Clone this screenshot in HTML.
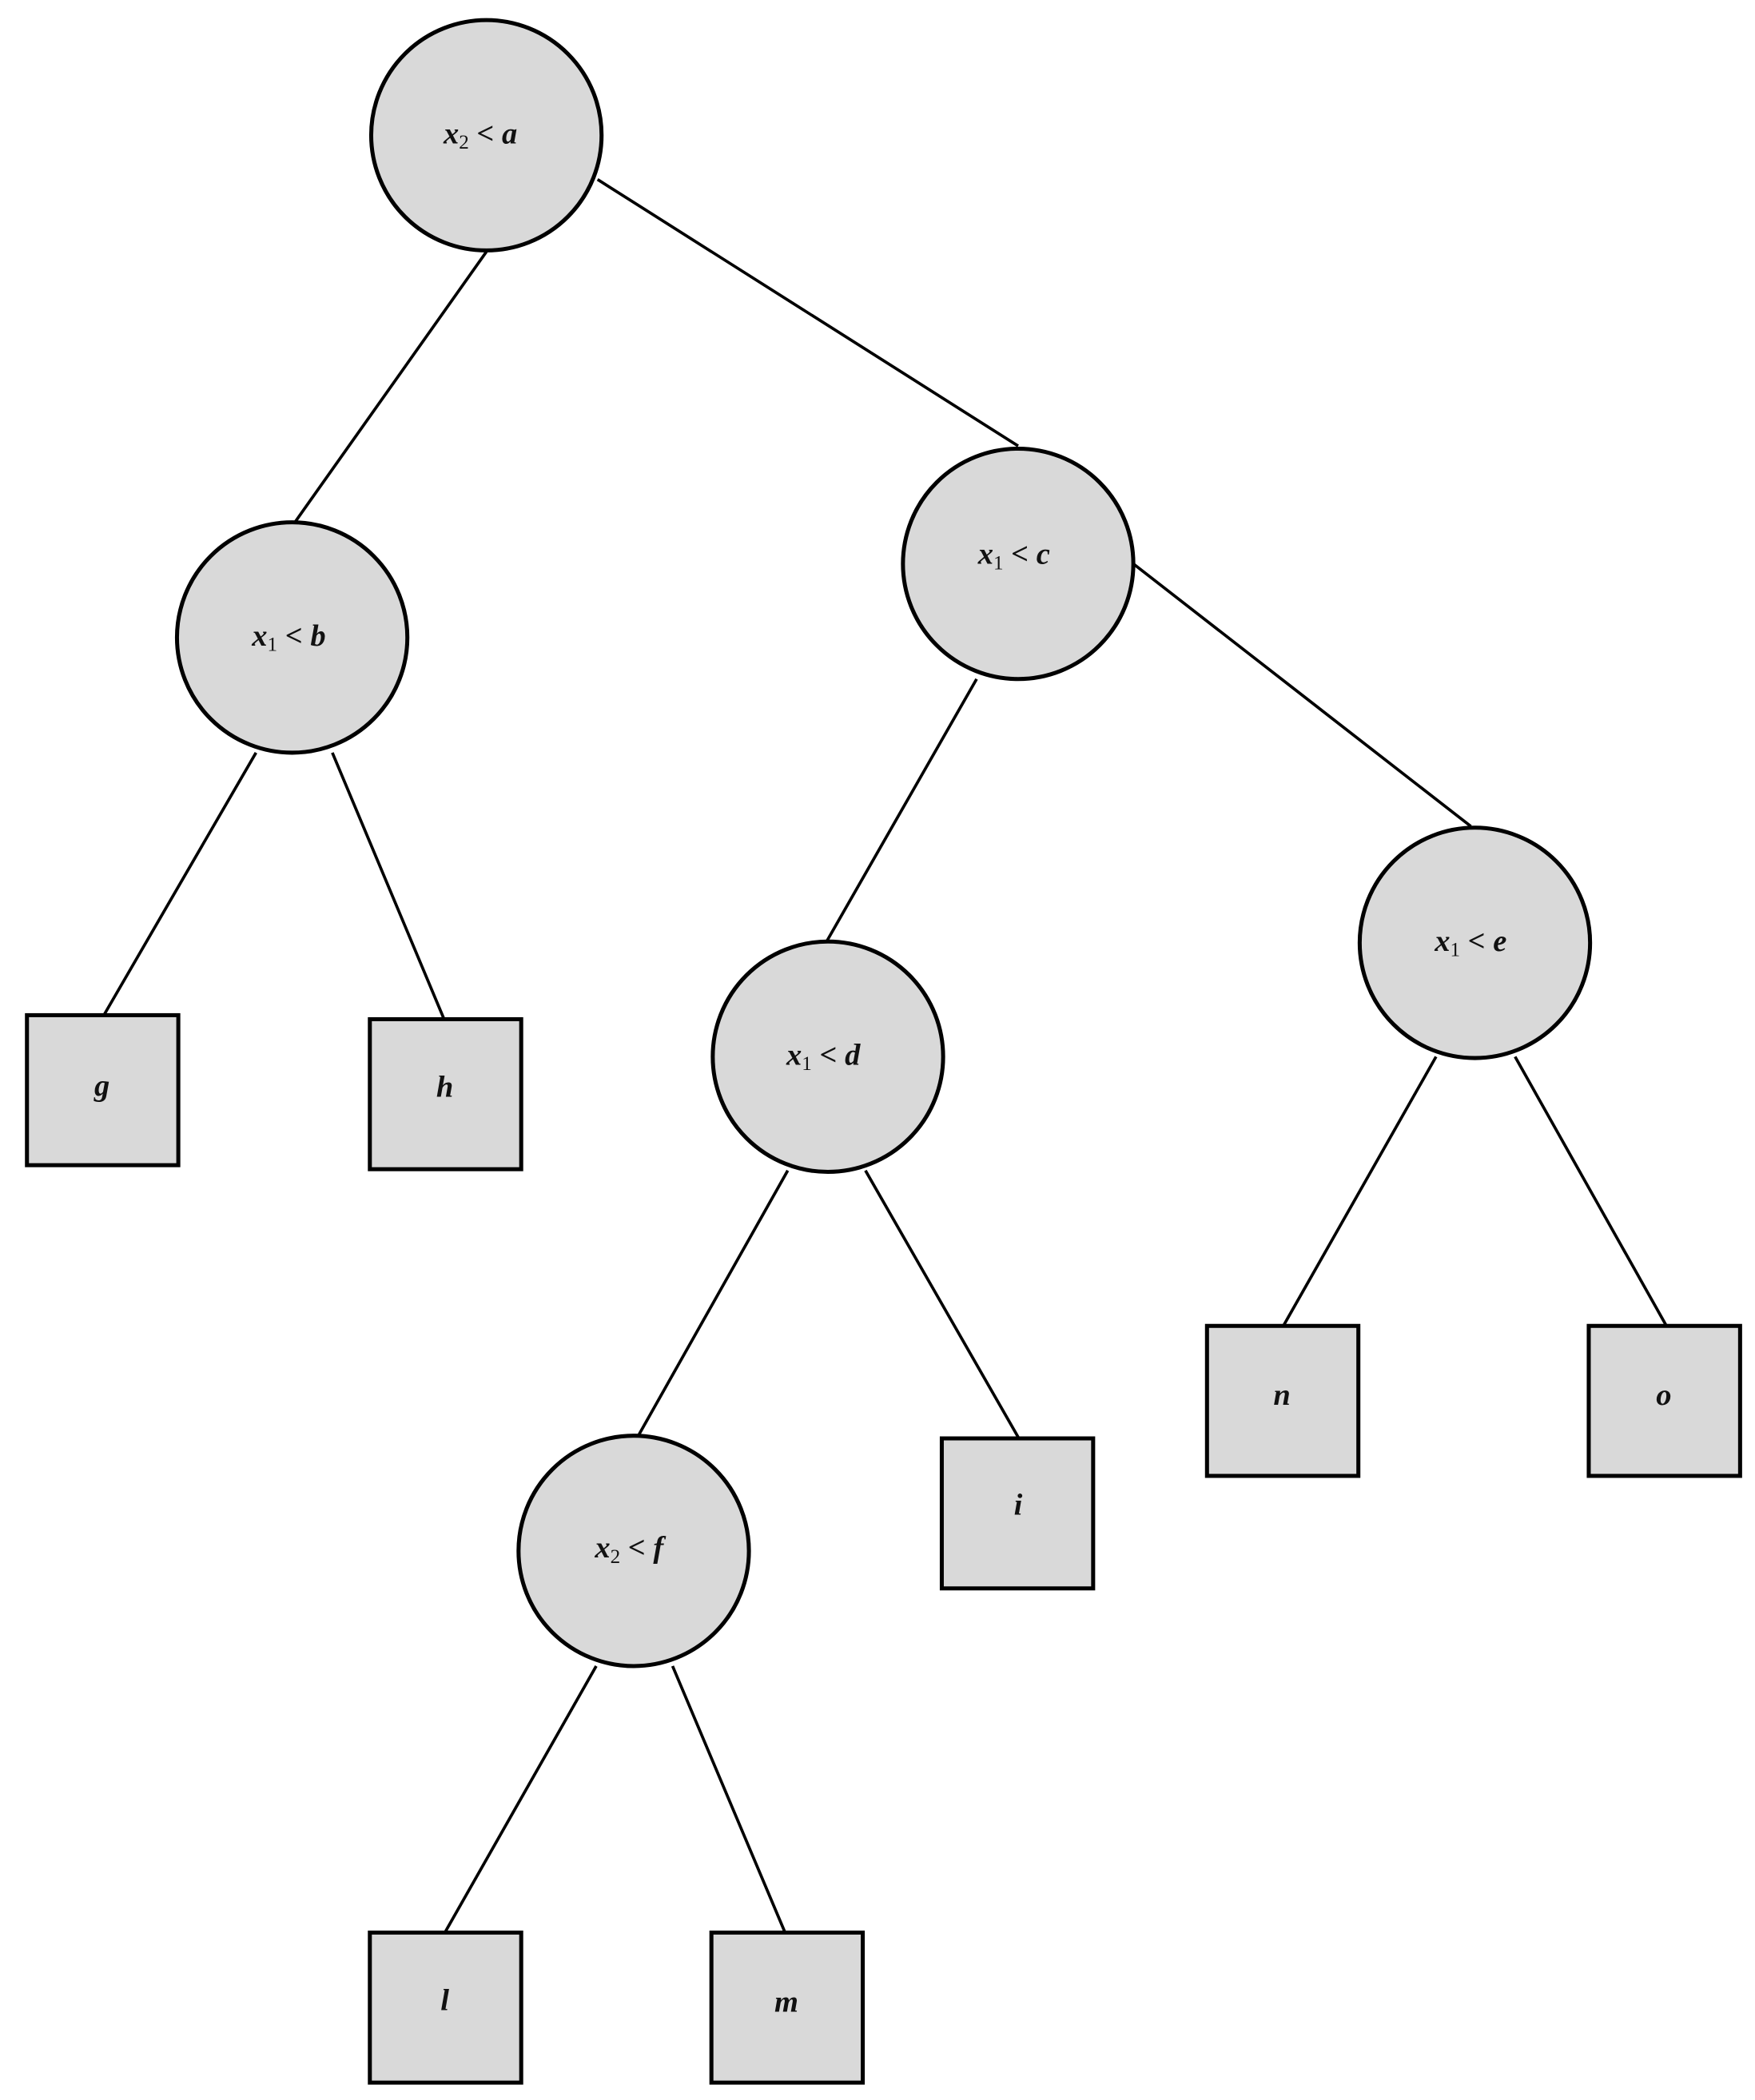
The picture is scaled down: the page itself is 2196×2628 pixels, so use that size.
<!DOCTYPE html>
<html><head><meta charset="utf-8"><style>
html,body{margin:0;padding:0;background:#fff;}
svg{display:block;}
text{font-family:"Liberation Serif",serif;font-weight:bold;font-style:italic;font-size:23px;fill:#111;}
.s{font-size:15px;font-style:normal;font-weight:normal;}
</style></head><body>
<svg width="2196" height="2628" viewBox="0 0 1310 1568" xmlns="http://www.w3.org/2000/svg">
<g stroke="#000" stroke-width="2.2" fill="none">
<line x1="363" y1="188" x2="220" y2="390"/>
<line x1="446" y1="134" x2="760" y2="333"/>
<line x1="191" y1="562" x2="78" y2="757"/>
<line x1="248" y1="562" x2="331" y2="760"/>
<line x1="729" y1="507" x2="617" y2="703"/>
<line x1="846" y1="421" x2="1098" y2="617"/>
<line x1="588" y1="874" x2="477" y2="1071"/>
<line x1="646" y1="874" x2="760" y2="1073"/>
<line x1="1072" y1="789" x2="958" y2="990"/>
<line x1="1131" y1="789" x2="1244" y2="990"/>
<line x1="445" y1="1244" x2="332" y2="1443"/>
<line x1="502" y1="1244" x2="586" y2="1443"/>
</g>
<g stroke="#000" stroke-width="3" fill="#d9d9d9">
<circle cx="363" cy="101" r="86"/>
<circle cx="218" cy="476" r="86"/>
<circle cx="760" cy="421" r="86"/>
<circle cx="618" cy="789" r="86"/>
<circle cx="1101" cy="704" r="86"/>
<circle cx="473" cy="1158" r="86"/>
<rect x="20" y="758" width="113" height="112"/>
<rect x="276" y="761" width="113" height="112"/>
<rect x="703" y="1074" width="113" height="112"/>
<rect x="901" y="990" width="113" height="112"/>
<rect x="1186" y="990" width="113" height="112"/>
<rect x="276" y="1443" width="113" height="112"/>
<rect x="531" y="1443" width="113" height="112"/>
</g>
<text x="331" y="107">x<tspan class="s" dy="4">2</tspan><tspan dy="-4"> &lt; a</tspan></text>
<text x="188" y="482">x<tspan class="s" dy="4">1</tspan><tspan dy="-4"> &lt; b</tspan></text>
<text x="730" y="421">x<tspan class="s" dy="4">1</tspan><tspan dy="-4"> &lt; c</tspan></text>
<text x="587" y="795">x<tspan class="s" dy="4">1</tspan><tspan dy="-4"> &lt; d</tspan></text>
<text x="1071" y="710">x<tspan class="s" dy="4">1</tspan><tspan dy="-4"> &lt; e</tspan></text>
<text x="444" y="1163">x<tspan class="s" dy="4">2</tspan><tspan dy="-4"> &lt; f</tspan></text>
<g text-anchor="middle">
<text x="76" y="818">g</text>
<text x="332" y="819">h</text>
<text x="760" y="1131">i</text>
<text x="957" y="1049">n</text>
<text x="1242" y="1049">o</text>
<text x="332" y="1501">l</text>
<text x="587" y="1502">m</text>
</g>
</svg>
</body></html>
